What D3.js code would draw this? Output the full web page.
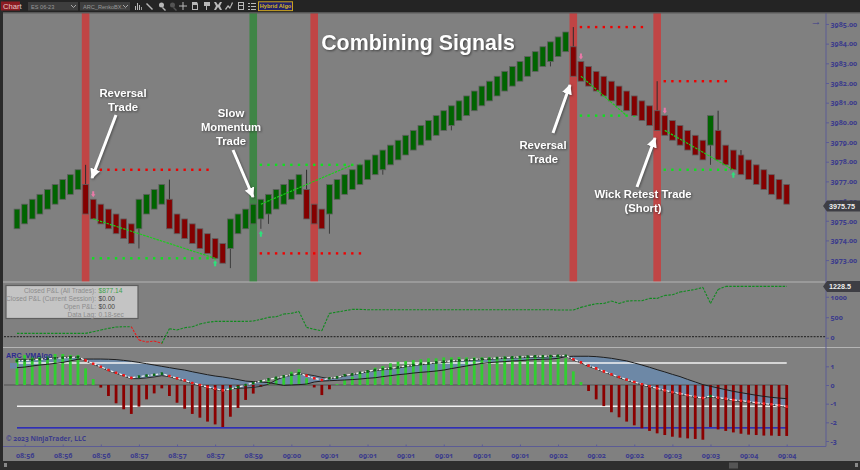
<!DOCTYPE html>
<html><head><meta charset="utf-8">
<script src="https://cdnjs.cloudflare.com/ajax/libs/d3/7.8.5/d3.min.js"></script>
<style>
html,body{margin:0;padding:0;background:#808080;overflow:hidden}
svg{display:block}
text{font-family:"Liberation Sans",Arial,sans-serif}
.axt{font-family:"Open Sans",sans-serif;font-weight:700;fill:#3c3c8c;font-size:7.1px;font-variant-numeric:oldstyle-nums;font-feature-settings:"onum" 1}
.note{fill:#fff;font-weight:700;filter:drop-shadow(1px 1px 1px rgba(40,40,40,.7))}
</style></head><body><svg id="c" width="860" height="470"></svg>
<script>
const opens=[3974.5,3974.75,3975,3975.25,3975.5,3975.75,3976,3976.25,3976.5,3976.75,3976,3975.75,3975.5,3975.25,3975,3974.75,3974.5,3975.25,3975.5,3975.75,3976,3975.25,3975,3974.75,3974.5,3974.25,3974,3973.75,3973.5,3974.25,3974.5,3974.75,3975,3975.25,3975.5,3975.75,3976,3976.25,3976.5,3975.75,3975.5,3975.25,3976,3976.25,3976.5,3976.75,3977,3977.25,3977.5,3977.75,3978,3978.25,3978.5,3978.75,3979,3979.25,3979.5,3979.75,3980,3980.25,3980.5,3980.75,3981,3981.25,3981.5,3981.75,3982,3982.25,3982.5,3982.75,3983,3983.25,3983.5,3983.75,3983,3982.75,3982.5,3982.25,3982,3981.75,3981.5,3981.25,3981,3980.75,3980.5,3980.25,3980,3979.75,3979.5,3979.25,3979,3978.75,3979.5,3978.75,3978.5,3978.25,3978,3977.75,3977.5,3977.25,3977,3976.75];
const closes=[3975.5,3975.75,3976,3976.25,3976.5,3976.75,3977,3977.25,3977.5,3975.25,3975,3974.75,3974.5,3974.25,3974,3973.75,3976,3976.25,3976.5,3976.75,3974.5,3974.25,3974,3973.75,3973.5,3973.25,3973,3972.75,3975,3975.25,3975.5,3975.75,3976,3976.25,3976.5,3976.75,3977,3977.25,3975,3974.75,3974.5,3976.75,3977,3977.25,3977.5,3977.75,3978,3978.25,3978.5,3978.75,3979,3979.25,3979.5,3979.75,3980,3980.25,3980.5,3980.75,3981,3981.25,3981.5,3981.75,3982,3982.25,3982.5,3982.75,3983,3983.25,3983.5,3983.75,3984,3984.25,3984.5,3982.25,3982,3981.75,3981.5,3981.25,3981,3980.75,3980.5,3980.25,3980,3979.75,3979.5,3979.25,3979,3978.75,3978.5,3978.25,3978,3980.25,3978,3977.75,3977.5,3977.25,3977,3976.75,3976.5,3976.25,3976,3975.75];
const wickHighBars=[9,20,38,73,84,92,95];
const wickHighs=[3977.75,3977,3977.5,3984.75,3982,3980.5,3978.5];
const wickLowBars=[16,28,32,33,41,48,57,70,91];
const wickLows=[3973.5,3972.5,3974.5,3974.75,3974.25,3977.25,3979.5,3982.75,3977.75];
const redBandBars=[9,39,73,84];
const greenBandBars=[31];
const redLevels=[[11,25,3977.5],[32,45,3973.25],[74,82,3984.75],[85,93,3982]];
const greenLevels=[[10,26,3973],[32,45,3977.75],[74,82,3980.25],[85,93,3977.5]];
const targetStartBars=[10,32,74,85];
const targetStartPrices=[3975,3975.75,3982.25,3979.5];
const targetEndBars=[26,44,80,94];
const targetEndPrices=[3973,3977.75,3980.25,3977.5];
const sellSignalBars=[10,74,85];
const sellSignalPrices=[3976.25,3983.25,3980.5];
const buySignalBars=[26,32,94];
const buySignalPrices=[3972.75,3974.25,3977.25];
const priceTicks=[3973,3974,3975,3976,3977,3978,3979,3980,3981,3982,3983,3984,3985];
const lastPrice=3975.75;
const pnl=[81,81,81,81,81,81,81,81,81,81,122,163,203,236,244,244,-81,-130,-106,-163,195,163,220,244,309,350,374,374,374,374,374,382,423,472,488,553,569,618,228,179,146,569,602,635,667,667,659,659,659,659,659,659,659,659,659,659,659,659,659,659,659,659,659,659,659,659,659,659,659,659,659,651,651,651,716,765,805,813,870,813,870,879,879,935,935,1009,1025,1090,1123,1155,1204,813,1155,1228,1228,1228,1228,1228,1228,1228,1228,1228];
const pnlTicks=[0,500,1000];
const lastPnl=1228.5;
const hist=[1.43,1.61,1.55,1.55,1.55,1.66,1.66,1.61,1.61,0.89,0.32,-0.14,-0.59,-0.98,-1.30,-1.55,-1.16,-0.77,-0.45,-0.18,-0.59,-0.95,-1.27,-1.55,-1.75,-1.96,-2.11,-2.25,-1.70,-1.23,-0.80,-0.46,-0.09,0.27,0.41,0.50,0.71,0.84,0.36,-0.13,-0.54,-0.23,0.05,0.27,0.45,0.62,0.77,0.93,1.02,1.16,1.25,1.29,1.34,1.38,1.43,1.43,1.48,1.48,1.50,1.48,1.48,1.48,1.50,1.50,1.52,1.52,1.54,1.54,1.55,1.55,1.59,1.61,1.43,0.73,0.16,-0.32,-0.77,-1.13,-1.46,-1.73,-1.96,-2.16,-2.32,-2.46,-2.59,-2.68,-2.77,-2.82,-2.86,-2.89,-2.93,-2.25,-2.38,-2.46,-2.54,-2.61,-2.66,-2.68,-2.71,-2.71,-2.73,-2.73];
const vmaFast=[1.29,1.32,1.34,1.38,1.41,1.43,1.46,1.48,1.50,1.32,1.14,.98,.80,.66,.52,.38,.45,.50,.55,.61,.48,.36,.25,.11,0,-.11,-.20,-.29,-.21,-.11,0,.11,.20,.30,.38,.46,.55,.63,.50,.36,.27,.36,.41,.52,.57,.66,.73,.80,.86,.89,.95,1.02,1.07,1.13,1.16,1.21,1.25,1.29,1.32,1.34,1.38,1.39,1.41,1.45,1.46,1.48,1.50,1.52,1.54,1.54,1.55,1.57,1.57,1.38,1.21,1.04,.89,.73,.57,.43,.29,.16,.04,-.07,-.18,-.29,-.38,-.46,-.55,-.63,-.70,-.59,-.68,-.73,-.80,-.84,-.89,-.95,-1.00,-1.04,-1.09,-1.16];
const bandLower=[1.34,1.36,1.38,1.39,1.43,1.45,1.48,1.50,1.48,1.29,1.11,.95,.77,.63,.48,.34,.34,.38,.43,.50,.45,.32,.21,.07,-.04,-.14,-.23,-.32,-.20,-.18,-.16,-.13,-.07,.04,.27,.43,.52,.59,.57,.50,.41,.34,.38,.48,.54,.63,.70,.77,.82,.86,.91,.98,1.04,1.09,1.13,1.18,1.21,1.25,1.29,1.30,1.34,1.36,1.38,1.41,1.43,1.45,1.46,1.48,1.50,1.50,1.52,1.54,1.55,1.34,1.18,1.00,.86,.70,.54,.39,.25,.13,0,-.11,-.21,-.32,-.41,-.50,-.59,-.66,-.73,-.63,-.71,-.77,-.84,-.88,-.93,-.98,-1.04,-1.07,-1.13,-1.20];
const bandUpper=[.93,.96,1.02,1.07,1.11,1.16,1.21,1.29,1.38,1.39,1.39,1.39,1.38,1.36,1.32,1.27,1.21,1.14,1.07,1.00,.93,.86,.80,.71,.63,.55,.48,.43,.36,.29,.21,.18,.16,.13,.05,-.02,0,.02,.05,.16,.21,.23,.25,.27,.29,.32,.36,.39,.45,.50,.55,.59,.64,.68,.71,.75,.80,.88,.95,1.02,1.09,1.16,1.20,1.23,1.25,1.29,1.30,1.34,1.36,1.38,1.39,1.43,1.52,1.54,1.54,1.54,1.52,1.48,1.43,1.36,1.29,1.18,1.07,.95,.82,.70,.57,.45,.30,.16,.02,-.07,-.16,-.25,-.34,-.41,-.48,-.55,-.61,-.66,-.70,-.73];
const fallingRuns=[[9,15],[20,27],[38,40],[73,90],[92,101]];
const oscLevels=[1.18,-1.14];
const oscFloor=-2.3;
const oscTicks=[1,0,-1,-2,-3];
const timeTickBars=[1,6,11,16,21,26,31,36,41,46,51,56,61,66,71,76,81,86,91,96,101];
const timeLabels=["08:56","08:56","08:56","08:57","08:57","08:57","08:59","09:00","09:01","09:01","09:01","09:01","09:01","09:01","09:02","09:02","09:02","09:03","09:03","09:04","09:04"];
const infoLabels=["Closed P&L (All Trades):","Closed P&L (Current Session):","Open P&L:","Data Lag:"];
const infoValues=["$877.14","$0.00","$0.00","0.18-sec"];

const svg=d3.select("#c");
const N=opens.length, idx=d3.range(N);
const x=d3.scaleLinear().domain([0,101]).range([17,786.7]);
const y=d3.scaleLinear().domain([3973,3985]).range([258.3,22.16]);
const yP=d3.scaleLinear().domain([0,1228.5]).range([336.7,286.4]);
const yO=d3.scaleLinear().domain([0,-3]).range([385,441]);
const axisRight=826, axisBottomY=446.5;

svg.append("rect").attr("width",860).attr("height",470).attr("fill","#808080");

// bands
const bandG=svg.append("g");
bandG.selectAll(".r").data(redBandBars).join("rect").attr("x",d=>x(d)-3.8).attr("width",7.6).attr("y",13).attr("height",269).attr("fill","#c04545");
bandG.selectAll(".g").data(greenBandBars).join("rect").attr("x",d=>x(d)-3.8).attr("width",7.6).attr("y",13).attr("height",269).attr("fill","#3f8546");

// panel separators
[282,347.5].forEach(v=>svg.append("line").attr("x1",3).attr("x2",860).attr("y1",v).attr("y2",v).attr("stroke","#b4b4b4").attr("stroke-width",1));

// level dots
function dots(levels,color){
  levels.forEach(([a,b,p])=>{
    svg.append("g").selectAll("rect").data(d3.range(a,b+1)).join("rect")
      .attr("x",d=>x(d)-1.2).attr("y",y(p)-1.2).attr("width",2.4).attr("height",2.4).attr("fill",color);
  });
}
dots(redLevels,"#f00000"); dots(greenLevels,"#10e020");

// wicks
const wickG=svg.append("g").attr("stroke","#2e2e2e").attr("stroke-width",1);
wickHighBars.forEach((b,i)=>wickG.append("line").attr("x1",x(b)).attr("x2",x(b)).attr("y1",y(wickHighs[i])).attr("y2",y(Math.max(opens[b],closes[b]))));
wickLowBars.forEach((b,i)=>wickG.append("line").attr("x1",x(b)).attr("x2",x(b)).attr("y1",y(wickLows[i])).attr("y2",y(Math.min(opens[b],closes[b]))).attr("stroke","#3c3c3c"));

// bodies
svg.append("g").selectAll("rect").data(idx).join("rect")
  .attr("x",i=>x(i)-2.9).attr("width",5.8)
  .attr("y",i=>y(Math.max(opens[i],closes[i])))
  .attr("height",i=>Math.abs(y(opens[i])-y(closes[i])))
  .attr("fill",i=>closes[i]>opens[i]?"#006400":"#840000")
  .attr("stroke","#5e5e5e").attr("stroke-width",.8);

// target lines
targetStartBars.forEach((b,i)=>{
  svg.append("line").attr("x1",x(b)).attr("y1",y(targetStartPrices[i])).attr("x2",x(targetEndBars[i])).attr("y2",y(targetEndPrices[i]))
    .attr("stroke","#1ccc1c").attr("stroke-width",1.2).attr("stroke-dasharray","2.5,1");
});
// signals
const arrowShape="M-1,-3H1V0H2.2L0,3L-2.2,0H-1Z";
svg.append("g").selectAll("path").data(sellSignalBars).join("path").attr("d",arrowShape)
  .attr("transform",(d,i)=>`translate(${x(d)},${y(sellSignalPrices[i])})`).attr("fill","#e87aa8");
svg.append("g").selectAll("path").data(buySignalBars).join("path").attr("d",arrowShape)
  .attr("transform",(d,i)=>`translate(${x(d)},${y(buySignalPrices[i])}) rotate(180)`).attr("fill","#2fe07c");

// arrows
const defs=svg.append("defs");
defs.append("marker").attr("id","ah").attr("viewBox","0 0 10 10").attr("refX",9).attr("refY",5)
  .attr("markerWidth",3.4).attr("markerHeight",3.4).attr("orient","auto").append("path").attr("d","M0,0L10,5L0,10Z").attr("fill","#fff");
const notes=svg.append("g");
[[116,115,92,178],[233,150,253,197],[553,133,570,85],[637,187,655,138]].forEach(a=>{
  notes.append("line").attr("x1",a[0]).attr("y1",a[1]).attr("x2",a[2]).attr("y2",a[3])
   .attr("stroke","#fff").attr("stroke-width",3).attr("marker-end","url(#ah)")
   .style("filter","drop-shadow(1px 1px 1px rgba(40,40,40,.55))");
});
function note(cx,cy,lines,fs=11.3,lh=14){
  lines.forEach((t,i)=>notes.append("text").attr("class","note").attr("x",cx).attr("y",cy+i*lh).attr("text-anchor","middle").attr("font-size",fs).text(t));
}
note(123,97,["Reversal","Trade"]);
note(231,117,["Slow","Momentum","Trade"]);
note(543,149,["Reversal","Trade"]);
note(643,198,["Wick Retest Trade","(Short)"]);
note(418,50,["Combining Signals"],21.4);

// P&L panel
svg.append("line").attr("x1",4).attr("x2",axisRight).attr("y1",yP(0)).attr("y2",yP(0)).attr("stroke","#111").attr("stroke-width",.9).attr("stroke-dasharray","2,1.2");
const pnlG=svg.append("g");
idx.slice(1).forEach(i=>{
  pnlG.append("line").attr("x1",x(i-1)).attr("x2",x(i)).attr("y1",yP(pnl[i-1])).attr("y2",yP(pnl[i]))
   .attr("stroke",pnl[i]<0?"#e81a1a":"#0f8a1e").attr("stroke-width",1.1).attr("stroke-dasharray","2.4,1.2");
});

// oscillator panel
svg.append("path").datum(idx).attr("fill","#6d88a6")
 .attr("d",d3.area().x(i=>x(i)).y0(i=>yO(bandUpper[i])).y1(i=>yO(bandLower[i])));
oscLevels.forEach(v=>svg.append("line").attr("x1",x(0)).attr("x2",x(101)).attr("y1",yO(v)).attr("y2",yO(v)).attr("stroke","#f2f2f2").attr("stroke-width",1.6));
svg.append("line").attr("x1",x(0)).attr("x2",x(101)).attr("y1",yO(oscFloor)).attr("y2",yO(oscFloor)).attr("stroke","#1414c8").attr("stroke-width",1.2);
svg.append("line").attr("x1",4).attr("x2",x(101)).attr("y1",yO(0)).attr("y2",yO(0)).attr("stroke","#505050").attr("stroke-width",1);
svg.append("g").selectAll("rect").data(idx).join("rect")
 .attr("x",i=>x(i)-1.4).attr("width",2.8)
 .attr("y",i=>yO(Math.max(0,hist[i])))
 .attr("height",i=>Math.abs(yO(hist[i])-yO(0)))
 .attr("fill",i=>hist[i]>=0?"#32cd32":"#8b0000");
const lineOf=a=>d3.line().x(i=>x(i)).y(i=>yO(a[i]))(idx);
svg.append("path").attr("d",lineOf(bandUpper)).attr("fill","none").attr("stroke","#1e1e1e").attr("stroke-width",1);
svg.append("path").attr("d",lineOf(bandLower)).attr("fill","none").attr("stroke","#2a2a2a").attr("stroke-width",1);
svg.append("path").attr("d",lineOf(vmaFast)).attr("fill","none").attr("stroke","#f0f0f0").attr("stroke-width",1.3).attr("stroke-dasharray","3,1.6");
const isFalling=i=>fallingRuns.some(([a,b])=>i>=a&&i<=b);
svg.append("g").selectAll("rect").data(idx).join("rect")
 .attr("x",i=>x(i)-1.3).attr("y",i=>yO(vmaFast[i])-1.3).attr("width",2.6).attr("height",2.6).attr("rx",.6)
 .attr("fill",i=>isFalling(i)?"#f01616":"#0b6a16");

// axes
svg.append("line").attr("x1",axisRight).attr("x2",axisRight).attr("y1",13).attr("y2",axisBottomY).attr("stroke","#5c5c94").attr("stroke-width",1);
svg.append("line").attr("x1",3).attr("x2",axisRight).attr("y1",axisBottomY).attr("y2",axisBottomY).attr("stroke","#5c5c94").attr("stroke-width",1);
function styleAxis(g){g.select(".domain").remove();g.selectAll("line").attr("stroke","#5c5c94");g.selectAll("text").attr("class","axt");}
svg.append("g").attr("transform",`translate(${axisRight},1.8)`)
 .call(d3.axisRight(y).tickValues(priceTicks).tickSize(3).tickPadding(1.5).tickFormat(d3.format(".2f"))).call(styleAxis);
svg.append("g").attr("transform",`translate(${axisRight},1)`)
 .call(d3.axisRight(yP).tickValues(pnlTicks).tickSize(3).tickPadding(1.5).tickFormat(d3.format("d"))).call(styleAxis);
svg.append("g").attr("transform",`translate(${axisRight},0)`)
 .call(d3.axisRight(yO).tickValues(oscTicks).tickSize(3).tickPadding(1.5).tickFormat(d=>String(d))).call(styleAxis);
svg.append("g").attr("transform",`translate(0,${axisBottomY})`)
 .call(d3.axisBottom(x).tickValues(timeTickBars).tickSize(-2).tickPadding(6).tickFormat((d,i)=>timeLabels[i])).call(styleAxis);

// flags
function flag(cy,label){
  svg.append("path").attr("d",`M823,${cy}L827,${cy-5.5}H860V${cy+5.5}H827Z`).attr("fill","#3e3e44");
  svg.append("text").attr("x",829).attr("y",cy+2.8).attr("font-size",7.2).attr("font-weight",700).attr("fill","#eee").attr("font-family","Open Sans").text(label);
}
flag(y(lastPrice)+1.8,"3975.75");
flag(yP(lastPnl),"1228.5");
svg.append("text").attr("x",816).attr("y",25).attr("text-anchor","middle").attr("font-size",11).attr("fill","#3c3c8c").text("→");

// info box
svg.append("rect").attr("x",6).attr("y",285.5).attr("width",132).attr("height",33).attr("fill","#c4c4c4").attr("stroke","#5e5e5e").attr("stroke-width",1.2);
infoLabels.forEach((t,i)=>{
  const py=292.5+i*8.1;
  svg.append("text").attr("x",96).attr("y",py).attr("text-anchor","end").attr("font-size",6.6).attr("fill","#8c8c8c").text(t);
  svg.append("text").attr("x",98.5).attr("y",py).attr("font-size",6.6)
    .attr("fill",i==0?"#3ea04a":(i==3?"#8c8c8c":"#444")).text(infoValues[i]);
});
svg.append("text").attr("x",6).attr("y",358).attr("font-size",7.2).attr("font-weight",700).attr("fill","#2c2c90").text("ARC_VMAlgo");
svg.append("rect").attr("x",10).attr("y",363).attr("width",7).attr("height",5.5).attr("fill","#6d88a6");
svg.append("text").attr("x",6).attr("y",441).attr("class","axt").style("font-size","6.7px").text("© 2023 NinjaTrader, LLC");

// window chrome
svg.append("rect").attr("width",860).attr("height",12.5).attr("fill","#242424");
svg.append("rect").attr("y",12.5).attr("width",860).attr("height",1).attr("fill","#5a5a5a");
svg.append("rect").attr("width",3).attr("height",470).attr("fill","#2a2a2a");
svg.append("rect").attr("y",461).attr("width",860).attr("height",9).attr("fill","#2e2e2e");
svg.append("rect").attr("x",729).attr("y",462.5).attr("width",9).attr("height",6).attr("fill","#555");
svg.append("rect").attr("x",855).attr("y",463).attr("width",3).attr("height",4).attr("fill","#888");
svg.append("rect").attr("x",4).attr("y",463).attr("width",3).attr("height",4).attr("fill","#888");
svg.append("rect").attr("x",1).attr("y",1.5).attr("width",19).attr("height",9).attr("fill","#8a1c22");
svg.append("text").attr("x",3).attr("y",9).attr("font-size",7.6).attr("fill","#e8c8c8").text("Chart");
[["ES 06-23",28,50],["ARC_RenkoBX...",80,50]].forEach(([t,px,w])=>{
  svg.append("rect").attr("x",px).attr("y",2).attr("width",w).attr("height",8.5).attr("fill","#3e3e3e");
  svg.append("text").attr("x",px+3).attr("y",8.6).attr("font-size",5.6).attr("fill","#999").text(t);
  svg.append("path").attr("d",`M${px+w-7},5L${px+w-4.5},7.5L${px+w-2},5`).attr("fill","none").attr("stroke","#aaa");
});
const toolIconPaths=["M-3,4V0H-2V4ZM-1,4V-3H0V4ZM1,4V-1H2V4ZM3,4V1H3.8V4Z","M-3,-3L3,3L2,4L-4,-2Z","M-3,-1a2.5,2.5 0 1,1 5,0a2.5,2.5 0 1,1 -5,0M1,1L4,4L3,5L0,2Z","M-3,-1a2.5,2.5 0 1,1 5,0a2.5,2.5 0 1,1 -5,0M1,1L4,4L3,5L0,2Z","M-.5,-4H.5V-.5H4V.5H.5V4H-.5V.5H-4V-.5H-.5Z","M-3,-4H2L3,-2V4H-3ZM-2,-1V3H2V-1Z","M-3,-4H3V0H0V4H-1V0H-3Z","M-4,-4L-2,-4L0,-1L2,-4L4,-4L2,0L4,4L2,4L0,1L-2,4L-4,4L-2,0Z","M-4,3L-1,-1L1,1L3,-4L4,-3L1,3L-1,1L-3,4Z","M-3,-4H3V4H-3ZM-2,-3V-1H2V-3ZM-2,0V3H2V0Z","M-4,-3H-2V-2H-4ZM-1,-3H4V-2H-1ZM-4,0H-2V1H-4ZM-1,0H4V1H-1ZM-4,3H-2V4H-4ZM-1,3H4V4H-1Z"];
const toolIconX=[138,150,162,173,183,195,207,218,229,241,252];
svg.append("g").selectAll("path").data(toolIconPaths).join("path").attr("d",d=>d)
 .attr("transform",(d,i)=>`translate(${toolIconX[i]},6)`).attr("fill",(d,i)=>i==3?"#555":"#b8b8b8");
svg.append("rect").attr("x",258.5).attr("y",1.8).attr("width",34).attr("height",8.8).attr("fill","#22226a").attr("stroke","#c9a21e").attr("stroke-width",1);
svg.append("text").attr("x",275.5).attr("y",8.4).attr("text-anchor","middle").attr("font-size",5.6).attr("font-weight",700).attr("fill","#d8b820").text("Hybrid Algo");
</script></body></html>
